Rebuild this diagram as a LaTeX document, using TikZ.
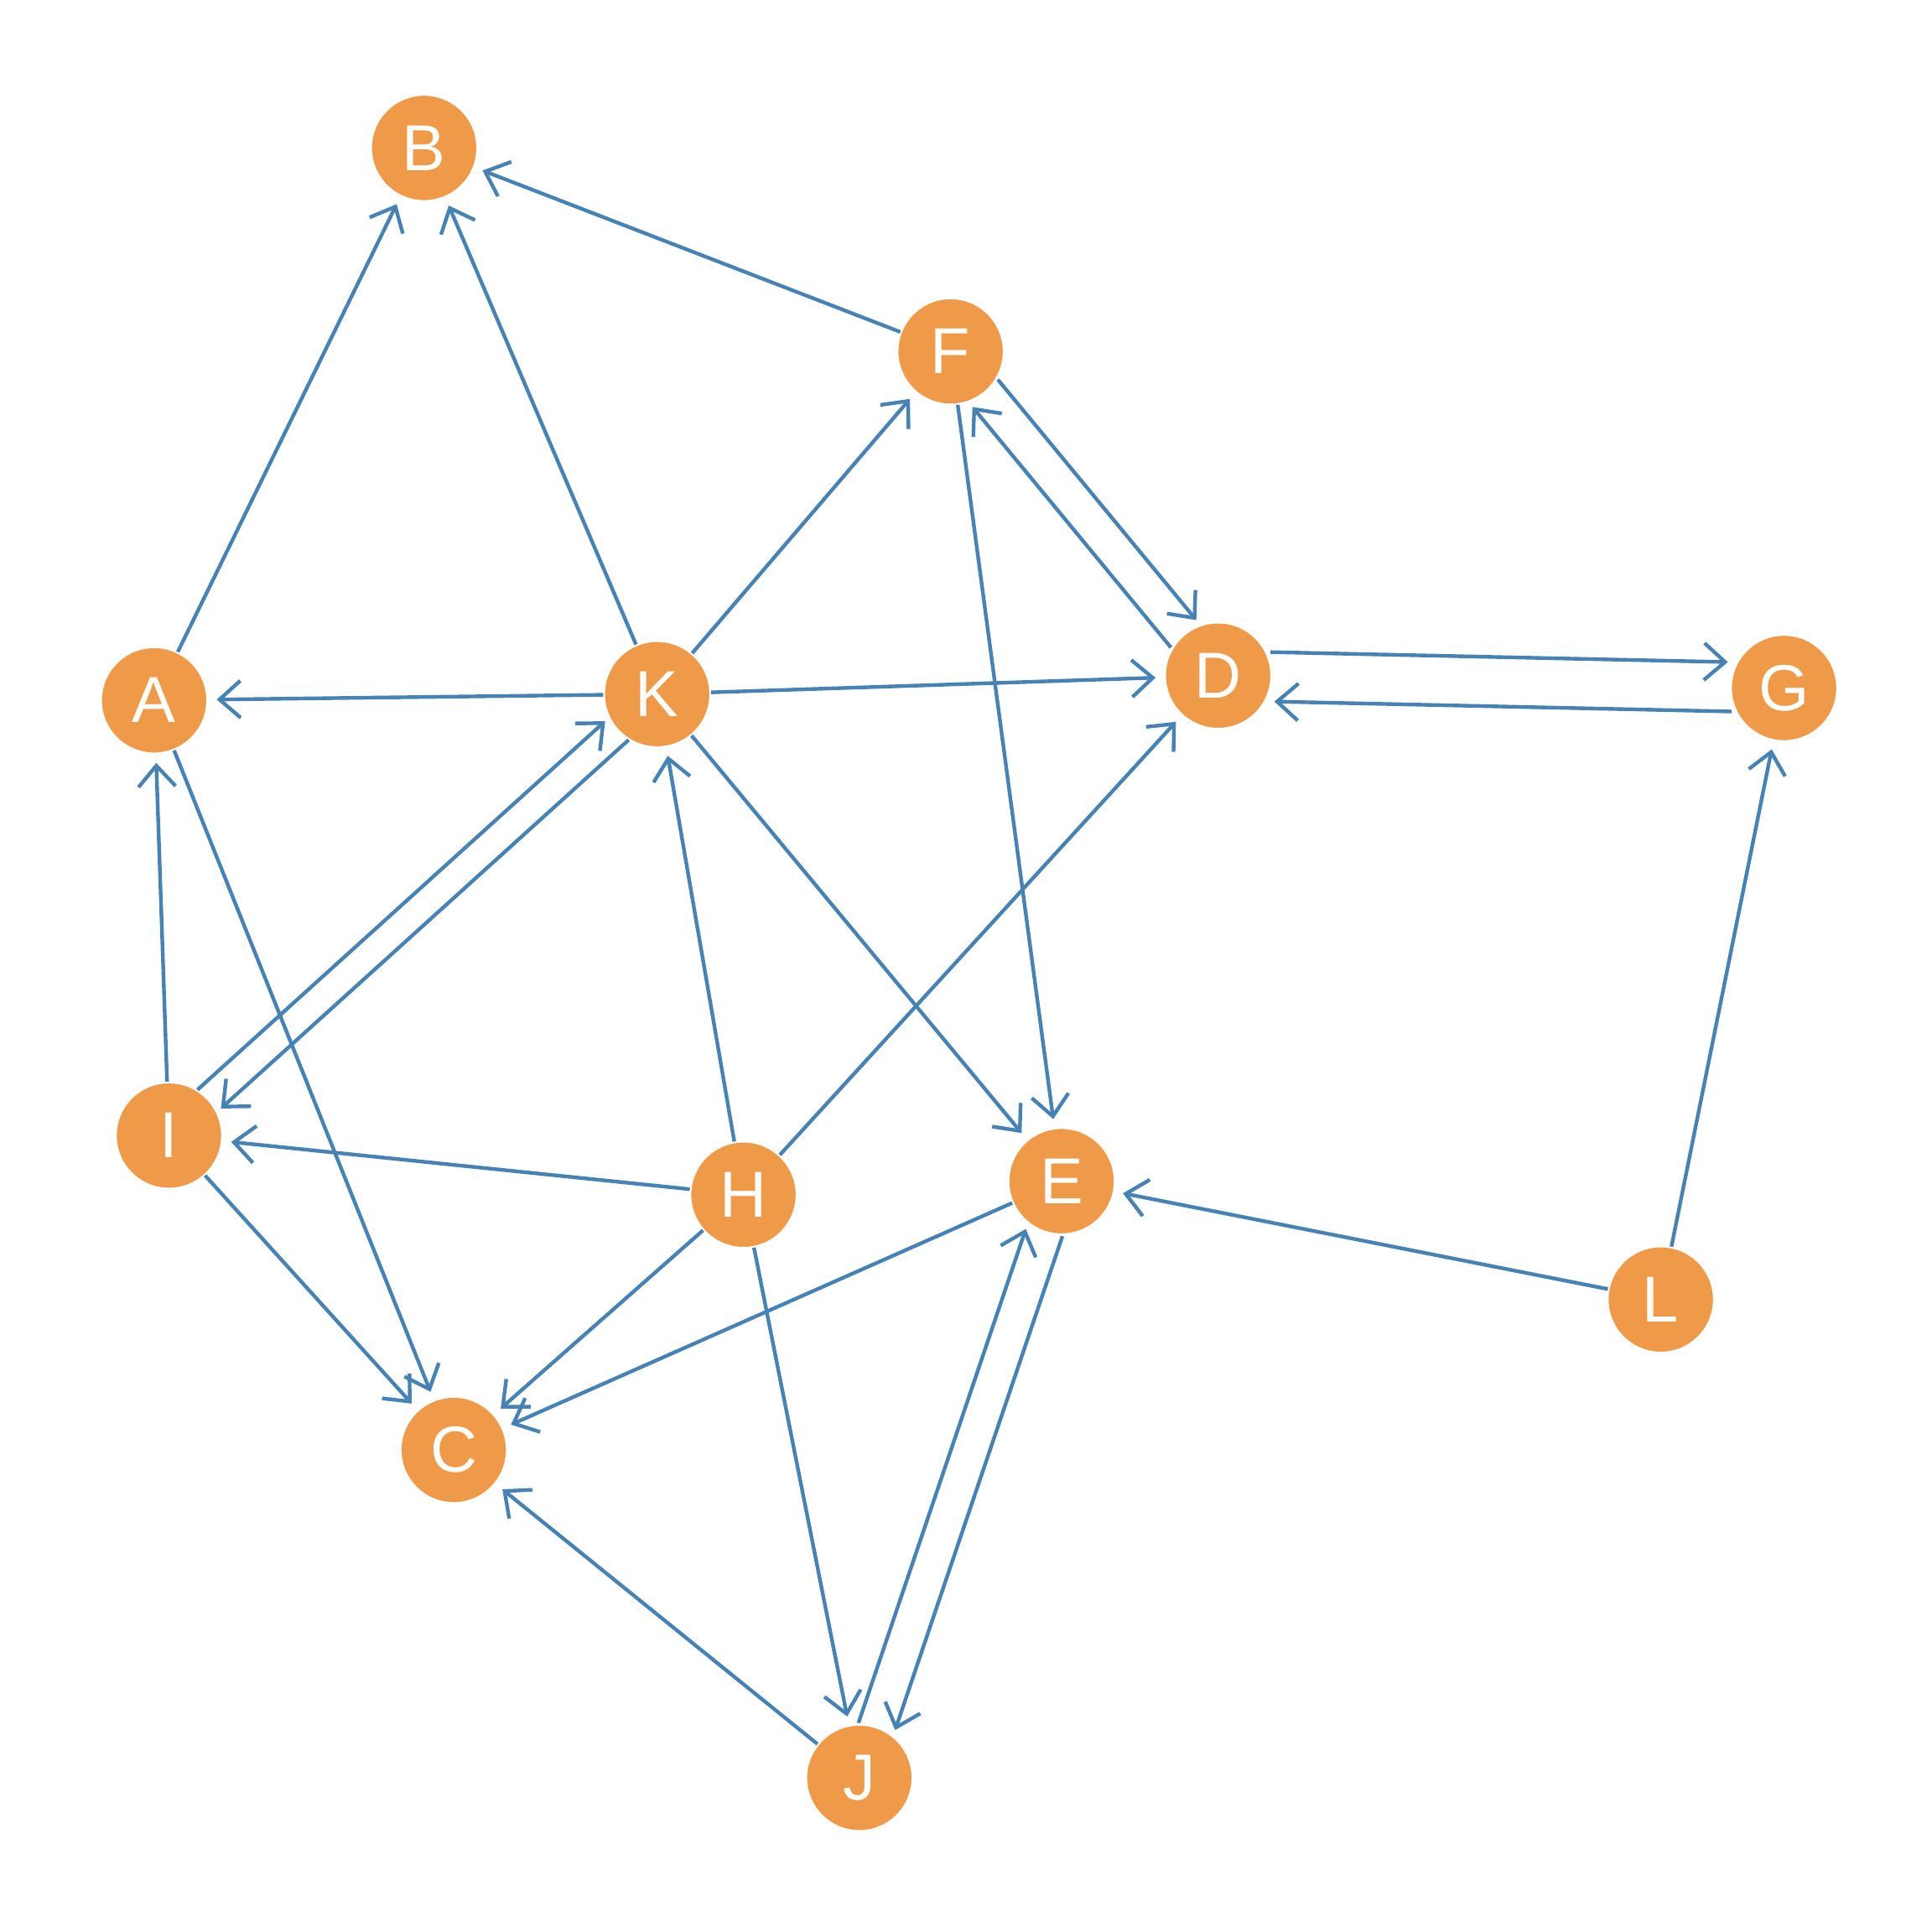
\documentclass[tikz,border=0pt]{standalone}
\usepackage{fontspec}
\setmainfont{Liberation Sans}
\usetikzlibrary{arrows.meta,calc}
\definecolor{ecol}{RGB}{70,130,180}
\definecolor{ncol}{RGB}{238,154,73}
\begin{document}
\begin{tikzpicture}[x=0.01cm,y=-0.01cm,
  nd/.style={circle,fill=ncol,draw=white,line width=0.4pt,minimum size=0.86cm,inner sep=0pt,text=white,font=\fontsize{15}{15}\selectfont},
  e/.style={draw=ecol,line width=0.85pt,-{Straight Barb[length=1.7mm,width=3mm,line width=0.85pt]},shorten >=2pt},
  pe/.style={e,shorten <=0.42cm,shorten >=0.46cm}]
\useasboundingbox (0,0) rectangle (1567,1567);
\node[nd] (B) at (344,120) {B};
\node[nd] (F) at (771,285) {F};
\node[nd] (A) at (125,568) {A};
\node[nd] (K) at (533,563) {K};
\node[nd] (D) at (988,548) {D};
\node[nd] (G) at (1447,558) {G};
\node[nd] (I) at (137,921) {I};
\node[nd] (H) at (603,969) {H};
\node[nd] (E) at (861,958) {E};
\node[nd] (L) at (1347,1054) {L};
\node[nd] (C) at (368,1176) {C};
\node[nd] (J) at (697,1442) {J};
\foreach \a/\b in {A/B,K/B,F/B,K/F,K/A,K/D,H/K,K/E,F/E,H/D,I/A,A/C,I/C,H/I,H/C,E/C,H/J,J/C,L/E,L/G}
  \draw[e] (\a) -- (\b);
\foreach \a/\b/\o in {F/D/0.15cm,D/F/0.15cm,D/G/0.2cm,G/D/0.2cm,K/I/0.12cm,I/K/0.12cm,E/J/0.15cm,J/E/0.15cm}
  \draw[pe] ($(\a)!\o!90:(\b)$) -- ($(\b)!\o!-90:(\a)$);
\end{tikzpicture}
\end{document}
